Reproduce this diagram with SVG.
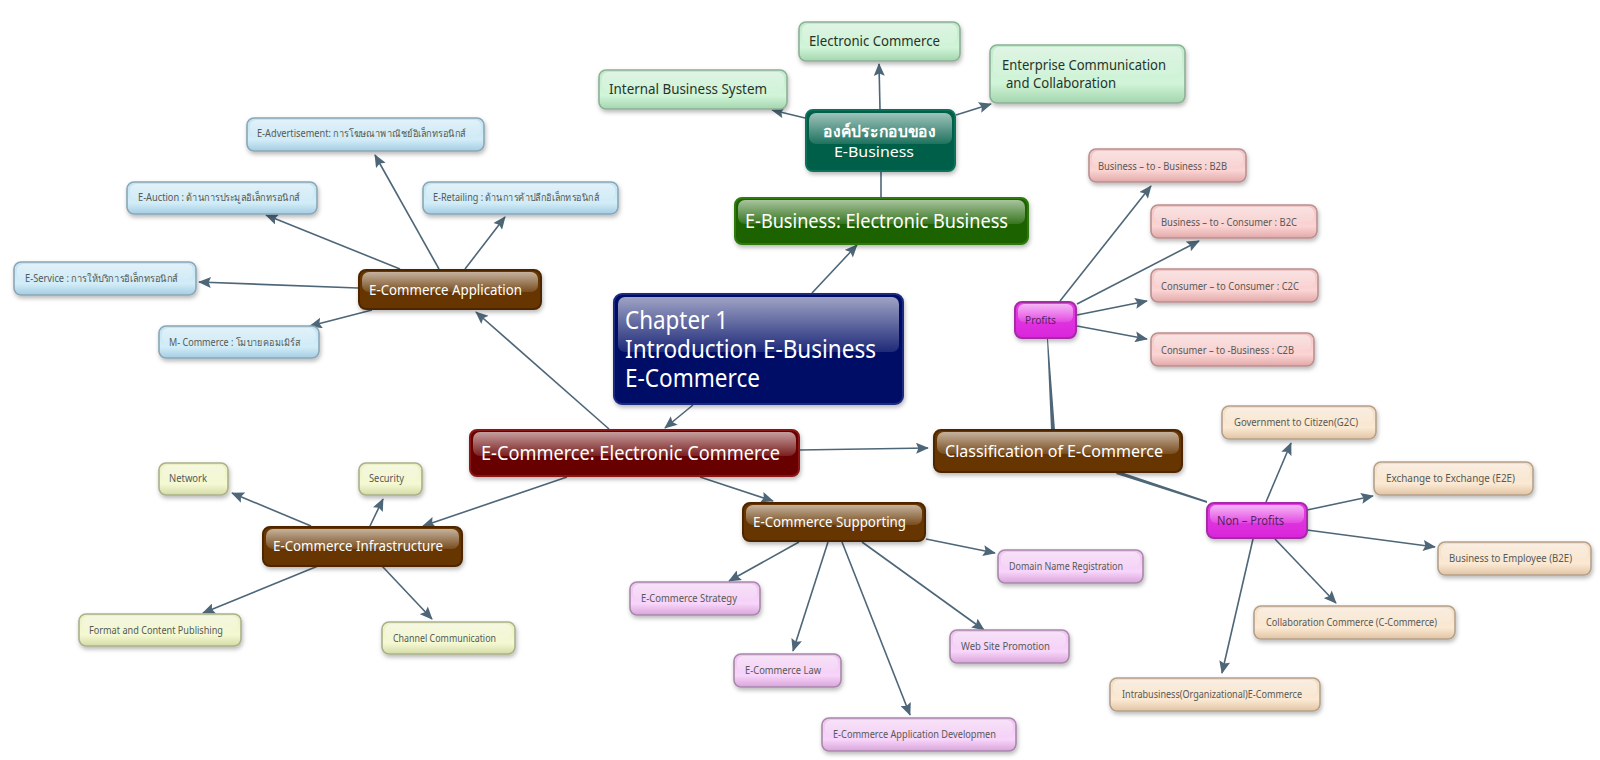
<svg xmlns="http://www.w3.org/2000/svg" width="1600" height="760" viewBox="0 0 1600 760">
<defs>
<filter id="sh" x="-10%" y="-15%" width="120%" height="140%"><feDropShadow dx="1" dy="2.5" stdDeviation="2" flood-color="#000" flood-opacity=".28"/></filter>
<marker id="ah" viewBox="0 0 14 12" refX="13" refY="6" markerWidth="14" markerHeight="11" markerUnits="userSpaceOnUse" orient="auto"><path d="M0 0L14 6L0 12L2.5 6Z" fill="#4d6678"/></marker>
<linearGradient id="gl" x1="0" y1="0" x2="0" y2="1"><stop offset="0" stop-color="#fff" stop-opacity=".62"/><stop offset="1" stop-color="#fff" stop-opacity=".12"/></linearGradient>
<linearGradient id="glL" x1="0" y1="0" x2="0" y2="1"><stop offset="0" stop-color="#fff" stop-opacity=".5"/><stop offset="1" stop-color="#fff" stop-opacity=".08"/></linearGradient>
<linearGradient id="blue" x1="0" y1="0" x2="0" y2="1"><stop offset="0" stop-color="#c2e3f2"/><stop offset=".65" stop-color="#d3edf8"/><stop offset="1" stop-color="#a4cde2"/></linearGradient>
<linearGradient id="green" x1="0" y1="0" x2="0" y2="1"><stop offset="0" stop-color="#bfeac9"/><stop offset=".65" stop-color="#d2f5d9"/><stop offset="1" stop-color="#a3d5ae"/></linearGradient>
<linearGradient id="pink" x1="0" y1="0" x2="0" y2="1"><stop offset="0" stop-color="#f3c5c5"/><stop offset=".65" stop-color="#fbd4d4"/><stop offset="1" stop-color="#e2a8a8"/></linearGradient>
<linearGradient id="tan" x1="0" y1="0" x2="0" y2="1"><stop offset="0" stop-color="#f3dcc2"/><stop offset=".65" stop-color="#fbe9d4"/><stop offset="1" stop-color="#e2c5a4"/></linearGradient>
<linearGradient id="lime" x1="0" y1="0" x2="0" y2="1"><stop offset="0" stop-color="#eaf0c0"/><stop offset=".65" stop-color="#f5f9d4"/><stop offset="1" stop-color="#d4dba6"/></linearGradient>
<linearGradient id="lilac" x1="0" y1="0" x2="0" y2="1"><stop offset="0" stop-color="#eec3f0"/><stop offset=".65" stop-color="#f8d5fa"/><stop offset="1" stop-color="#d9a5dc"/></linearGradient>
<linearGradient id="mag" x1="0" y1="0" x2="0" y2="1"><stop offset="0" stop-color="#e63fe6"/><stop offset="1" stop-color="#d926d9"/></linearGradient>
</defs>
<style>
text{font-family:"Noto Sans","Open Sans","DejaVu Sans",sans-serif}
.b{filter:url(#sh);stroke-width:2}
.l{stroke-width:1.6}
.s{fill:url(#glL);stroke:none}
.g{fill:url(#gl);stroke:none}
.navy{fill:#000e66;stroke:#1c2a80}
.forest{fill:#1f6400;stroke:#2d7a10}
.teal{fill:#005e49;stroke:#0a7058}
.maroon{fill:#680000;stroke:#8a1616}
.brown{fill:#663500;stroke:#4e2800}
.mag{fill:url(#mag);stroke:#a52aa5}
.blue{fill:url(#blue);stroke:#8ba6b6}
.green{fill:url(#green);stroke:#8db097}
.pink{fill:url(#pink);stroke:#b99090}
.tan{fill:url(#tan);stroke:#b5a08a}
.lime{fill:url(#lime);stroke:#aab08a}
.lilac{fill:url(#lilac);stroke:#a888aa}
.w{fill:#fff}
.d{fill:#565a56}
.k{fill:#27332a}
.m{fill:#5a2060}
.t10{font-size:10px}
.t12{font-size:13px}
.t14{font-size:14px}
.t15{font-size:15px}
.t19{font-size:19px}
.t26{font-size:25px}
#connectors line{stroke:#4d6678;stroke-width:1.6;marker-end:url(#ah)}
#connectors line.n{marker-end:none}
#connectors polygon{fill:#4d6678}
</style>
<g id="connectors">
<line x1="812" y1="293" x2="857" y2="245"/>
<line x1="693" y1="405" x2="665" y2="428"/>
<line class="n" x1="881" y1="197" x2="881" y2="172"/>
<line x1="880" y1="109" x2="879" y2="64"/>
<line x1="805" y1="118" x2="772" y2="110"/>
<line x1="956" y1="115" x2="991" y2="104"/>
<line x1="609" y1="429" x2="476" y2="312"/>
<line x1="567" y1="477" x2="423" y2="526"/>
<line x1="700" y1="477" x2="773" y2="501"/>
<line x1="799" y1="450" x2="928" y2="448"/>
<polygon points="1047,339 1048,339 1055,430 1051,430"/>
<polygon points="1118,471 1207,501 1207,503 1116,474"/>
<line x1="439" y1="269" x2="375" y2="155"/>
<line x1="400" y1="269" x2="266" y2="215"/>
<line x1="465" y1="269" x2="505" y2="217"/>
<line x1="358" y1="288" x2="199" y2="282"/>
<line x1="372" y1="310" x2="310" y2="326"/>
<line x1="311" y1="526" x2="232" y2="493"/>
<line x1="370" y1="526" x2="383" y2="499"/>
<line x1="318" y1="566" x2="203" y2="613"/>
<line x1="382" y1="566" x2="432" y2="619"/>
<line x1="799" y1="542" x2="729" y2="581"/>
<line x1="828" y1="542" x2="793" y2="651"/>
<line x1="842" y1="542" x2="910" y2="715"/>
<line x1="862" y1="542" x2="984" y2="630"/>
<line x1="926" y1="539" x2="995" y2="553"/>
<line x1="1060" y1="301" x2="1151" y2="186"/>
<line x1="1077" y1="304" x2="1199" y2="241"/>
<line x1="1077" y1="315" x2="1147" y2="301"/>
<line x1="1077" y1="326" x2="1147" y2="339"/>
<line x1="1266" y1="502" x2="1291" y2="443"/>
<line x1="1307" y1="510" x2="1373" y2="496"/>
<line x1="1307" y1="530" x2="1435" y2="547"/>
<line x1="1275" y1="539" x2="1336" y2="603"/>
<line x1="1253" y1="539" x2="1222" y2="673"/>
</g>
<g id="n-center"><rect class="b navy" x="614" y="294" width="289" height="110" rx="8"/><rect class="g" x="618" y="297" width="281" height="55" rx="7"/><text class="w t26" x="625" y="329" textLength="103" lengthAdjust="spacingAndGlyphs">Chapter 1</text><text class="w t26" x="625" y="358" textLength="251" lengthAdjust="spacingAndGlyphs">Introduction E-Business</text><text class="w t26" x="625" y="387" textLength="135" lengthAdjust="spacingAndGlyphs">E-Commerce</text></g>
<g id="n-ebiz"><rect class="b forest" x="735" y="198" width="293" height="46" rx="7"/><rect class="g" x="738" y="200" width="287" height="24" rx="7"/><text class="w t19" x="745" y="228" textLength="263" lengthAdjust="spacingAndGlyphs">E-Business: Electronic Business</text></g>
<g id="n-comp"><rect class="b teal" x="806" y="110" width="149" height="61" rx="7"/><rect class="g" x="809" y="113" width="143" height="31" rx="7"/><text class="w t15" style="font-size:16px;font-weight:600" x="823" y="137" textLength="113" lengthAdjust="spacingAndGlyphs">องค์ประกอบของ</text><text class="w t15" x="834" y="157" textLength="80" lengthAdjust="spacingAndGlyphs">E-Business</text></g>
<g id="n-ec"><rect class="b l green" x="799" y="22" width="161" height="39" rx="7"/><rect class="s" x="802" y="24" width="155" height="19" rx="6"/><text class="t14 k" x="809" y="46" textLength="131" lengthAdjust="spacingAndGlyphs">Electronic Commerce</text></g>
<g id="n-ibs"><rect class="b l green" x="599" y="70" width="188" height="39" rx="7"/><rect class="s" x="602" y="72" width="182" height="19" rx="6"/><text class="t14 k" x="609" y="94" textLength="158" lengthAdjust="spacingAndGlyphs">Internal Business System</text></g>
<g id="n-ecc"><rect class="b l green" x="990" y="45" width="195" height="58" rx="7"/><rect class="s" x="993" y="47" width="189" height="28" rx="6"/><text class="t14 k" x="1002" y="70" textLength="164" lengthAdjust="spacingAndGlyphs">Enterprise Communication</text><text class="t14 k" x="1006" y="88" textLength="110" lengthAdjust="spacingAndGlyphs">and Collaboration</text></g>
<g id="n-main"><rect class="b maroon" x="470" y="430" width="329" height="46" rx="7"/><rect class="g" x="473" y="432" width="323" height="24" rx="7"/><text class="w t19" x="481" y="460" textLength="299" lengthAdjust="spacingAndGlyphs">E-Commerce: Electronic Commerce</text></g>
<g id="n-class"><rect class="b brown" x="934" y="430" width="248" height="42" rx="7"/><rect class="g" x="937" y="432" width="242" height="22" rx="7"/><text class="w" style="font-size:16.5px" x="945" y="457" textLength="218" lengthAdjust="spacingAndGlyphs">Classification of E-Commerce</text></g>
<g id="n-app"><rect class="b brown" x="359" y="270" width="182" height="39" rx="7"/><rect class="g" x="362" y="272" width="176" height="20" rx="7"/><text class="w t14" x="369" y="295" textLength="153" lengthAdjust="spacingAndGlyphs">E-Commerce Application</text></g>
<g id="n-adv"><rect class="b l blue" x="247" y="118" width="237" height="33" rx="7"/><rect class="s" x="250" y="120" width="231" height="15" rx="6"/><text class="t10 d" x="257" y="137" textLength="209" lengthAdjust="spacingAndGlyphs">E-Advertisement: การโฆษณาพาณิชย์อิเล็กทรอนิกส์</text></g>
<g id="n-auc"><rect class="b l blue" x="127" y="182" width="190" height="32" rx="7"/><rect class="s" x="130" y="184" width="184" height="15" rx="6"/><text class="t10 d" x="138" y="201" textLength="162" lengthAdjust="spacingAndGlyphs">E-Auction : ด้านการประมูลอิเล็กทรอนิกส์</text></g>
<g id="n-ret"><rect class="b l blue" x="423" y="182" width="195" height="32" rx="7"/><rect class="s" x="426" y="184" width="189" height="15" rx="6"/><text class="t10 d" x="433" y="201" textLength="166" lengthAdjust="spacingAndGlyphs">E-Retailing : ด้านการค้าปลีกอิเล็กทรอนิกส์</text></g>
<g id="n-srv"><rect class="b l blue" x="14" y="262" width="182" height="33" rx="7"/><rect class="s" x="17" y="264" width="176" height="15" rx="6"/><text class="t10 d" x="25" y="282" textLength="153" lengthAdjust="spacingAndGlyphs">E-Service : การให้บริการอิเล็กทรอนิกส์</text></g>
<g id="n-mcom"><rect class="b l blue" x="159" y="326" width="160" height="32" rx="7"/><rect class="s" x="162" y="328" width="154" height="15" rx="6"/><text class="t10 d" x="169" y="346" textLength="131" lengthAdjust="spacingAndGlyphs">M- Commerce : โมบายคอมเมิร์ส</text></g>
<g id="n-inf"><rect class="b brown" x="263" y="527" width="199" height="39" rx="7"/><rect class="g" x="266" y="529" width="193" height="20" rx="7"/><text class="w t14" x="273" y="551" textLength="170" lengthAdjust="spacingAndGlyphs">E-Commerce Infrastructure</text></g>
<g id="n-net"><rect class="b l lime" x="159" y="463" width="69" height="32" rx="7"/><rect class="s" x="162" y="465" width="63" height="15" rx="6"/><text class="t10 d" x="169" y="482" textLength="38" lengthAdjust="spacingAndGlyphs">Network</text></g>
<g id="n-sec"><rect class="b l lime" x="359" y="463" width="63" height="32" rx="7"/><rect class="s" x="362" y="465" width="57" height="15" rx="6"/><text class="t10 d" x="369" y="482" textLength="35" lengthAdjust="spacingAndGlyphs">Security</text></g>
<g id="n-fmt"><rect class="b l lime" x="79" y="614" width="162" height="32" rx="7"/><rect class="s" x="82" y="616" width="156" height="15" rx="6"/><text class="t10 d" x="89" y="634" textLength="134" lengthAdjust="spacingAndGlyphs">Format and Content Publishing</text></g>
<g id="n-chn"><rect class="b l lime" x="382" y="622" width="133" height="32" rx="7"/><rect class="s" x="385" y="624" width="127" height="15" rx="6"/><text class="t10 d" x="393" y="642" textLength="103" lengthAdjust="spacingAndGlyphs">Channel Communication</text></g>
<g id="n-sup"><rect class="b brown" x="743" y="503" width="182" height="38" rx="7"/><rect class="g" x="746" y="505" width="176" height="20" rx="7"/><text class="w t14" x="753" y="527" textLength="153" lengthAdjust="spacingAndGlyphs">E-Commerce Supporting</text></g>
<g id="n-str"><rect class="b l lilac" x="630" y="582" width="130" height="33" rx="7"/><rect class="s" x="633" y="584" width="124" height="15" rx="6"/><text class="t10 d" x="641" y="602" textLength="96" lengthAdjust="spacingAndGlyphs">E-Commerce Strategy</text></g>
<g id="n-law"><rect class="b l lilac" x="734" y="654" width="107" height="33" rx="7"/><rect class="s" x="737" y="656" width="101" height="15" rx="6"/><text class="t10 d" x="745" y="674" textLength="76" lengthAdjust="spacingAndGlyphs">E-Commerce Law</text></g>
<g id="n-dev"><rect class="b l lilac" x="822" y="718" width="194" height="33" rx="7"/><rect class="s" x="825" y="720" width="188" height="15" rx="6"/><text class="t10 d" x="833" y="738" textLength="163" lengthAdjust="spacingAndGlyphs">E-Commerce Application Developmen</text></g>
<g id="n-web"><rect class="b l lilac" x="950" y="630" width="119" height="33" rx="7"/><rect class="s" x="953" y="632" width="113" height="15" rx="6"/><text class="t10 d" x="961" y="650" textLength="89" lengthAdjust="spacingAndGlyphs">Web Site Promotion</text></g>
<g id="n-dom"><rect class="b l lilac" x="998" y="550" width="145" height="33" rx="7"/><rect class="s" x="1001" y="552" width="139" height="15" rx="6"/><text class="t10 d" x="1009" y="570" textLength="114" lengthAdjust="spacingAndGlyphs">Domain Name Registration</text></g>
<g id="n-pro"><rect class="b mag" x="1015" y="302" width="61" height="36" rx="7"/><rect class="g" x="1018" y="304" width="55" height="18" rx="6"/><text class="t10 m" x="1025" y="324" textLength="31" lengthAdjust="spacingAndGlyphs">Profits</text></g>
<g id="n-b2b"><rect class="b l pink" x="1089" y="149" width="157" height="33" rx="7"/><rect class="s" x="1092" y="151" width="151" height="15" rx="6"/><text class="t10 d" x="1098" y="170" textLength="129" lengthAdjust="spacingAndGlyphs">Business – to - Business : B2B</text></g>
<g id="n-b2c"><rect class="b l pink" x="1151" y="205" width="166" height="33" rx="7"/><rect class="s" x="1154" y="207" width="160" height="15" rx="6"/><text class="t10 d" x="1161" y="226" textLength="136" lengthAdjust="spacingAndGlyphs">Business – to - Consumer : B2C</text></g>
<g id="n-c2c"><rect class="b l pink" x="1151" y="269" width="167" height="33" rx="7"/><rect class="s" x="1154" y="271" width="161" height="15" rx="6"/><text class="t10 d" x="1161" y="290" textLength="138" lengthAdjust="spacingAndGlyphs">Consumer – to Consumer : C2C</text></g>
<g id="n-c2b"><rect class="b l pink" x="1151" y="333" width="163" height="33" rx="7"/><rect class="s" x="1154" y="335" width="157" height="15" rx="6"/><text class="t10 d" x="1161" y="354" textLength="133" lengthAdjust="spacingAndGlyphs">Consumer – to -Business : C2B</text></g>
<g id="n-non"><rect class="b mag" x="1207" y="503" width="100" height="35" rx="7"/><rect class="g" x="1210" y="505" width="94" height="18" rx="6"/><text class="t12 m" x="1217" y="525" textLength="67" lengthAdjust="spacingAndGlyphs">Non – Profits</text></g>
<g id="n-g2c"><rect class="b l tan" x="1222" y="406" width="154" height="33" rx="7"/><rect class="s" x="1225" y="408" width="148" height="15" rx="6"/><text class="t10 d" x="1234" y="426" textLength="124" lengthAdjust="spacingAndGlyphs">Government to Citizen(G2C)</text></g>
<g id="n-e2e"><rect class="b l tan" x="1374" y="462" width="159" height="33" rx="7"/><rect class="s" x="1377" y="464" width="153" height="15" rx="6"/><text class="t10 d" x="1386" y="482" textLength="129" lengthAdjust="spacingAndGlyphs">Exchange to Exchange (E2E)</text></g>
<g id="n-b2e"><rect class="b l tan" x="1438" y="542" width="153" height="33" rx="7"/><rect class="s" x="1441" y="544" width="147" height="15" rx="6"/><text class="t10 d" x="1449" y="562" textLength="123" lengthAdjust="spacingAndGlyphs">Business to Employee (B2E)</text></g>
<g id="n-cc"><rect class="b l tan" x="1254" y="606" width="201" height="33" rx="7"/><rect class="s" x="1257" y="608" width="195" height="15" rx="6"/><text class="t10 d" x="1266" y="626" textLength="171" lengthAdjust="spacingAndGlyphs">Collaboration Commerce (C-Commerce)</text></g>
<g id="n-intra"><rect class="b l tan" x="1110" y="678" width="210" height="33" rx="7"/><rect class="s" x="1113" y="680" width="204" height="15" rx="6"/><text class="t10 d" x="1122" y="698" textLength="180" lengthAdjust="spacingAndGlyphs">Intrabusiness(Organizational)E-Commerce</text></g>
</svg>
